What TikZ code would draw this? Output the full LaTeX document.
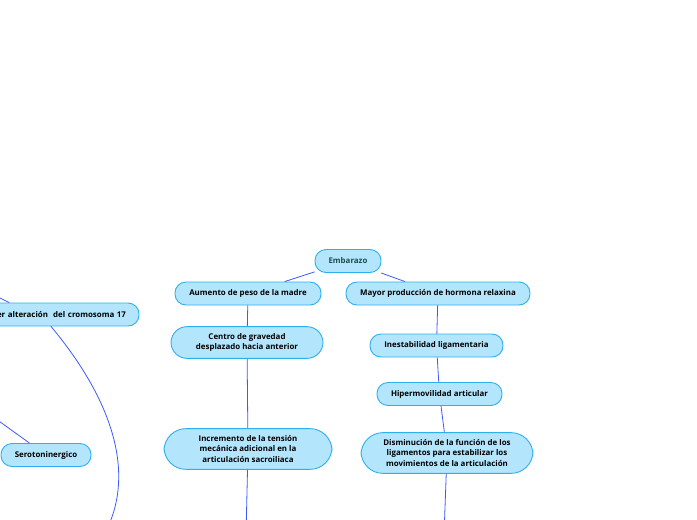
\documentclass[tikz,border=0pt]{standalone}
\usepackage{fontspec}
\setmainfont{Open Sans}
\definecolor{ideafill}{HTML}{B3E5FC}
\definecolor{ideaedge}{HTML}{2EB0EC}
\definecolor{linkblue}{HTML}{3D5AFE}
\definecolor{roottext}{HTML}{1D4D4D}

\begin{document}
\begin{tikzpicture}[
                x=1pt,y=-1pt,
                idea/.style={draw=ideaedge,fill=ideafill,line width=0.9pt,
                  rounded corners=11pt,align=center,text=black,
                  font=\fontsize{7.9}{10.8}\selectfont\bfseries,
                  inner xsep=13pt,inner ysep=6.5pt,minimum height=23pt},
                link/.style={linkblue,line width=0.8pt}] %

\clip (0,0) rectangle (697,520);

% root
\node[idea,text=roottext,minimum width=66pt] (EMB) at (348,261) {Embarazo};

                    % left branch
                    \node[idea,minimum width=146pt] (AUM) at (248,293.5) {Aumento de peso de la madre};
                    \node[idea,minimum width=152pt,rounded corners=16pt] (CENTRO) at (247,342.5) {Centro de gravedad\\desplazado hacia anterior};
                    \node[idea,minimum width=168pt,rounded corners=22pt] (TENSION) at (248,449) {Incremento de la tensión\\mecánica adicional en la\\articulación sacroiliaca};
                    \coordinate (TENSIONOUT) at (246,535);

                    % right branch
                    \node[idea,minimum width=184pt] (RELAX) at (438,293.5) {Mayor producción de hormona relaxina};
                    \node[idea,minimum width=133pt] (INEST) at (436.5,345.5) {Inestabilidad ligamentaria};
                    \node[idea,minimum width=125pt] (HIPER) at (439.5,394) {Hipermovilidad articular};
                    \node[idea,minimum width=172pt,rounded corners=22pt] (DISM) at (447,453) {Disminución de la función de los\\ligamentos para estabilizar los\\movimientos de la articulación};
                    \coordinate (DISMOUT) at (444,535);

                    % far left
                    \node[idea,minimum width=212pt,text width=186pt,align=right] (CROMO) at (33,314.5) {er alteración\ \ del cromosoma 17};
                    \coordinate (CROMOIN) at (-40,278);
                    \coordinate (CROMOOUT) at (104,535);
                    \node[idea,minimum width=90pt] (SERO) at (46,455) {Serotoninergico};
                    \coordinate (SEROIN) at (-40,393);

%%%%%%%%%%%%%%%%%%%%%%%%%%%%%%%%%%%%%%%%%%%%%%%%%%%%%%%%%%%%%%%%%%%%%%%%%%%%%%%%%%%%

% links
\draw[link] (EMB) -- (AUM);
\draw[link] (EMB) -- (RELAX);
\draw[link] (AUM) -- (CENTRO);
\draw[link] (CENTRO) -- (TENSION);
\draw[link] (TENSION) -- (TENSIONOUT);
\draw[link] (RELAX) -- (INEST);
\draw[link] (INEST) -- (HIPER);
\draw[link] (HIPER) -- (DISM);
\draw[link] (DISM) -- (DISMOUT);
\draw[link] (CROMOIN) -- (CROMO);
\draw[link] ([xshift=18pt]CROMO.south) .. controls (100,385) and (142,465) .. (CROMOOUT);
\draw[link] (SEROIN) -- (SERO);

\end{tikzpicture}
\end{document}
